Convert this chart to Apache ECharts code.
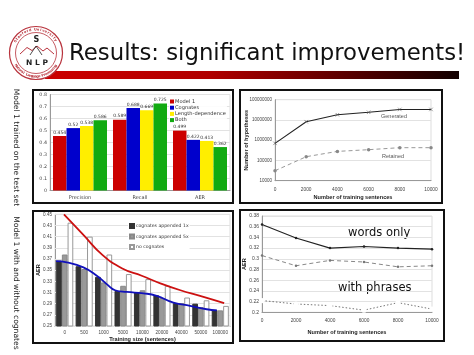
<!DOCTYPE html>
<html>
<head>
<meta charset="UTF-8">
<title>Results: significant improvements!</title>
<style>
html, body { margin: 0; padding: 0; background: #fff; }
#main { width: 474px; height: 355px; }
</style>
</head>
<body>
<div id="main"></div>
<script src="https://cdn.jsdelivr.net/npm/echarts@6/dist/echarts.min.js"></script>
<script type="text/javascript">
// top left: model 1 on the test set
var metricCats = ['Precision', 'Recall', 'AER'];
var model1Vals = [0.454, 0.589, 0.499];
var cognatesVals = [0.52, 0.688, 0.422];
var lengthVals = [0.538, 0.669, 0.413];
var bothVals = [0.586, 0.725, 0.362];

// top right: hypotheses, log scale
var sentenceCats = ['0', '2000', '4000', '6000', '8000', '10000'];
var generatedVals = [700000, 8200000, 18000000, 24000000, 33000000, 33000000];
var retainedVals = [31000, 153000, 280000, 340000, 427000, 427000];

// bottom left: with and without cognates
var sizeCats = ['0', '500', '1000', '5000', '10000', '20000', '40000', '50000', '100000'];
var cogTicks = [0.25, 0.27, 0.29, 0.31, 0.33, 0.35, 0.37, 0.39, 0.41, 0.43, 0.45];
var append1Vals = [0.367, 0.357, 0.338, 0.313, 0.31, 0.305, 0.291, 0.29, 0.279];
var append5Vals = [0.378, 0.352, 0.328, 0.322, 0.314, 0.3, 0.291, 0.284, 0.278];
var noCogVals = [0.435, 0.41, 0.378, 0.343, 0.334, 0.322, 0.301, 0.296, 0.286];
var redCurve = [[0.46, 0.45], [1.46, 0.413], [2.45, 0.377], [3.46, 0.353], [4.46, 0.34], [5.45, 0.326], [6.45, 0.314], [7.46, 0.304], [8.7, 0.291]];
var blueCurve = [[0.05, 0.366], [0.6, 0.364], [1.46, 0.355], [2.15, 0.34], [2.66, 0.325], [3.09, 0.314], [3.69, 0.311], [4.55, 0.3085], [5.23, 0.304], [6.09, 0.292], [6.95, 0.286], [7.8, 0.28], [8.32, 0.278]];

// bottom right: words only vs phrases
var wordsVals = [0.364, 0.339, 0.32, 0.323, 0.32, 0.318];
var phrasesVals = [0.306, 0.287, 0.297, 0.294, 0.285, 0.287];
var lowerVals = [0.222, 0.2155, 0.2125, 0.204, 0.218, 0.206];

var FONT = '"DejaVu Sans"';
var ARIAL = '"Liberation Sans"';
var myChart = echarts.init(document.getElementById('main'), null, { renderer: 'canvas' });

function xAxisBase(idx, cats, font, size, boundary, margin) {
    return {
        type: 'category', gridIndex: idx, data: cats, boundaryGap: boundary,
        axisLine: { lineStyle: { color: '#999', width: 1 } },
        axisTick: { show: false },
        axisLabel: { fontFamily: font, fontSize: size, color: '#444', margin: margin, interval: 0 },
        nameLocation: 'middle', nameMoveOverlap: false,
        nameTextStyle: { fontFamily: ARIAL, fontSize: 5.6, fontWeight: 'bold', color: '#222' }
    };
}
function yAxisBase(idx, font, size) {
    return {
        type: 'value', gridIndex: idx,
        axisLine: { show: true, lineStyle: { color: '#999', width: 1 } },
        axisTick: { show: false },
        axisLabel: { fontFamily: font, fontSize: size, color: '#444', margin: 3 },
        splitLine: { show: true, lineStyle: { color: '#e2e2e2', width: 1 } },
        nameLocation: 'middle', nameMoveOverlap: false,
        nameTextStyle: { fontFamily: ARIAL, fontSize: 5.6, fontWeight: 'bold', color: '#222' }
    };
}
function barSeries(name, vals, color) {
    return {
        name: name, type: 'bar', xAxisIndex: 0, yAxisIndex: 0, data: vals,
        barGap: 0, barCategoryGap: '10%',
        itemStyle: { color: color },
        label: { show: true, position: 'top', distance: 1, fontFamily: FONT, fontSize: 4.5, color: '#333' }
    };
}
function cogBar(name, vals, color, border) {
    return {
        name: name, type: 'bar', xAxisIndex: 2, yAxisIndex: 2, data: vals,
        barGap: 0, barCategoryGap: '12%',
        itemStyle: { color: color, borderColor: border, borderWidth: 1 }
    };
}

// panel frames, logo, title
var gfx = [];
var frames = [[33, 90, 200, 113], [240, 90, 202, 113], [33, 211, 200, 132], [240, 210, 204, 131]];
frames.forEach(function (f) {
    gfx.push({ type: 'rect', z: 100, silent: true, shape: { x: f[0], y: f[1], width: f[2], height: f[3] },
        style: { fill: 'none', stroke: '#111', lineWidth: 2 } });
});
gfx.push({ type: 'rect', shape: { x: 45, y: 71, width: 414, height: 8 },
    style: { fill: new echarts.graphic.LinearGradient(0, 0, 1, 0, [
        { offset: 0, color: '#cc0000' }, { offset: 0.4, color: '#b00000' }, { offset: 1, color: '#120000' }]) } });
gfx.push({ type: 'circle', shape: { cx: 36, cy: 53, r: 26.5 }, style: { fill: '#fff', stroke: '#b8323c', lineWidth: 1.2 } });
gfx.push({ type: 'circle', shape: { cx: 36, cy: 53, r: 20.5 }, style: { fill: '#fff', stroke: '#b8323c', lineWidth: 0.8 } });
gfx.push({ type: 'polyline', shape: { points: [[20, 54], [27, 47.5], [32, 50.5], [37, 46], [43, 51], [47, 48], [54, 54]] },
    style: { fill: 'none', stroke: '#b8323c', lineWidth: 1 } });
gfx.push({ type: 'polyline', shape: { points: [[30, 55], [36, 46], [42, 55]] },
    style: { fill: 'none', stroke: '#222', lineWidth: 0.8 } });
gfx.push({ type: 'text', x: 36.5, y: 40, style: { text: 'S', font: 'bold 8px ' + FONT, fill: '#222', align: 'center', verticalAlign: 'middle' } });
gfx.push({ type: 'text', x: 37, y: 63, style: { text: 'N L P', font: 'bold 7.5px ' + FONT, fill: '#222', align: 'center', verticalAlign: 'middle' } });

function ringText(str, startDeg, stepDeg, r, flip) {
    for (var i = 0; i < str.length; i++) {
        var a = (startDeg + stepDeg * i) * Math.PI / 180;
        gfx.push({ type: 'text', x: 36 + r * Math.cos(a), y: 53 - r * Math.sin(a),
            rotation: flip ? a + Math.PI / 2 : a - Math.PI / 2,
            style: { text: str.charAt(i), font: 'bold 3.5px ' + FONT, fill: '#b8323c', align: 'center', verticalAlign: 'middle' } });
    }
}
ringText('Stanford University', 150, -6.5, 23.5, false);
ringText('Natural Language Processing', 212, 4.4, 23.5, true);

gfx.push({ type: 'text', x: 69, y: 54, style: { text: 'Results: significant improvements!', font: '22.8px ' + FONT, fill: '#111', align: 'left', verticalAlign: 'middle' } });
gfx.push({ type: 'text', x: 15.5, y: 147.5, rotation: -Math.PI / 2, style: { text: 'Model 1 trained on the test set', font: '7.6px ' + FONT, fill: '#222', align: 'center', verticalAlign: 'middle' } });
gfx.push({ type: 'text', x: 16, y: 283, rotation: -Math.PI / 2, style: { text: 'Model 1 with and without cognates', font: '7.6px ' + FONT, fill: '#222', align: 'center', verticalAlign: 'middle' } });
gfx.push({ type: 'text', x: 381, y: 116, style: { text: 'Generated', font: '5.5px ' + ARIAL, fill: '#555', verticalAlign: 'middle' } });
gfx.push({ type: 'text', x: 382, y: 156, style: { text: 'Retained', font: '5.5px ' + ARIAL, fill: '#555', verticalAlign: 'middle' } });
gfx.push({ type: 'text', x: 348, y: 233, style: { text: 'words only', font: '11.5px ' + FONT, fill: '#111', verticalAlign: 'middle' } });
gfx.push({ type: 'text', x: 338, y: 288, style: { text: 'with phrases', font: '11.5px ' + FONT, fill: '#111', verticalAlign: 'middle' } });

var gridBorder = { show: true, borderColor: '#ddd', borderWidth: 1 };
var option = {
    animation: false,
    backgroundColor: '#fff',
    graphic: { elements: gfx },
    grid: [
        Object.assign({ left: 50, top: 94.5, width: 180, height: 96 }, gridBorder),
        Object.assign({ left: 275, top: 99.7, width: 156, height: 81 }, gridBorder),
        Object.assign({ left: 55, top: 214.3, width: 175, height: 111.7 }, gridBorder),
        Object.assign({ left: 262, top: 216, width: 170, height: 96.3 }, gridBorder)
    ],
    legend: [
        {
            data: ['Model 1', 'Cognates', 'Length-dependence', 'Both'], orient: 'vertical',
            left: 169, top: 98, icon: 'rect', itemWidth: 4, itemHeight: 4, itemGap: 1.2, padding: 1,
            backgroundColor: 'rgba(255,255,255,0.9)',
            textStyle: { fontFamily: FONT, fontSize: 5.1, color: '#333', padding: [0, 0, 0, -4] }
        },
        {
            data: ['cognates appended 1x', 'cognates appended 5x', 'no cognates'], orient: 'vertical',
            left: 128, top: 222, icon: 'rect', itemWidth: 4, itemHeight: 4, itemGap: 4.5, padding: 1,
            backgroundColor: '#fff',
            textStyle: { fontFamily: FONT, fontSize: 4.6, color: '#333', padding: [0, 0, 0, -3] }
        }
    ],
    xAxis: [
        xAxisBase(0, metricCats, FONT, 5, true, 5),
        Object.assign(xAxisBase(1, sentenceCats, ARIAL, 4.8, false, 6), { name: 'Number of training sentences', nameGap: 14 }),
        Object.assign(xAxisBase(2, sizeCats, ARIAL, 4.6, true, 4), { name: 'Training size (sentences)', nameGap: 10.5 }),
        { type: 'value', gridIndex: 2, min: 0, max: 9, show: false },
        Object.assign(xAxisBase(3, sentenceCats, ARIAL, 4.8, false, 6), { name: 'Number of training sentences', nameGap: 17.5 })
    ],
    yAxis: [
        Object.assign(yAxisBase(0, FONT, 4.8), { min: 0, max: 0.8, interval: 0.1 }),
        Object.assign(yAxisBase(1, ARIAL, 4.5), {
            type: 'log', logBase: 10, min: 10000, max: 100000000, name: 'Number of hypotheses', nameGap: 26,
            axisLabel: { fontFamily: ARIAL, fontSize: 4.5, color: '#444', margin: 3, formatter: function (v) { return String(v); } }
        }),
        Object.assign(yAxisBase(2, ARIAL, 4.6), {
            min: 0.25, max: 0.45, name: 'AER', nameGap: 14,
            splitLine: { show: false },
            axisLabel: { fontFamily: ARIAL, fontSize: 4.6, color: '#444', margin: 3, customValues: cogTicks, formatter: function (v) { return v.toFixed(2); } }
        }),
        Object.assign(yAxisBase(3, ARIAL, 5), { min: 0.2, max: 0.38, interval: 0.02, name: 'AER', nameGap: 15 })
    ],
    series: [
        barSeries('Model 1', model1Vals, '#cc0000'),
        barSeries('Cognates', cognatesVals, '#0000cc'),
        barSeries('Length-dependence', lengthVals, '#ffee00'),
        barSeries('Both', bothVals, '#11aa11'),
        {
            name: 'Generated', type: 'line', xAxisIndex: 1, yAxisIndex: 1, data: generatedVals,
            symbol: 'path://M0,0L10,10M10,0L0,10', symbolSize: 3.5,
            lineStyle: { color: '#222', width: 1.1 }, itemStyle: { color: '#555', borderColor: '#555', borderWidth: 0.6 }
        },
        {
            name: 'Retained', type: 'line', xAxisIndex: 1, yAxisIndex: 1, data: retainedVals,
            symbol: 'circle', symbolSize: 3.5,
            lineStyle: { color: '#999', width: 1, type: [4, 3] }, itemStyle: { color: '#888' }
        },
        cogBar('cognates appended 1x', append1Vals, '#333', '#333'),
        cogBar('cognates appended 5x', append5Vals, '#999', '#888'),
        Object.assign(cogBar('no cognates', noCogVals, '#fff', '#999'), {
            // faint gridlines, the odd tick values do not line up with interval
            markLine: {
                silent: true, z: 1, symbol: 'none', label: { show: false },
                lineStyle: { color: '#e2e2e2', width: 1, type: 'solid' },
                data: cogTicks.map(function (v) { return { yAxis: v }; })
            }
        }),
        {
            type: 'line', xAxisIndex: 3, yAxisIndex: 2, data: redCurve, smooth: true, symbol: 'none', z: 5,
            lineStyle: { color: '#cc1111', width: 1.8 }
        },
        {
            type: 'line', xAxisIndex: 3, yAxisIndex: 2, data: blueCurve, smooth: true, symbol: 'none', z: 5,
            lineStyle: { color: '#1111bb', width: 1.8 }
        },
        {
            type: 'line', xAxisIndex: 4, yAxisIndex: 3, data: wordsVals, symbol: 'circle', symbolSize: 2.5,
            lineStyle: { color: '#222', width: 1.1 }, itemStyle: { color: '#222' }
        },
        {
            type: 'line', xAxisIndex: 4, yAxisIndex: 3, data: phrasesVals, symbol: 'circle', symbolSize: 2.5,
            lineStyle: { color: '#888', width: 1, type: [4, 3] }, itemStyle: { color: '#777' }
        },
        {
            type: 'line', xAxisIndex: 4, yAxisIndex: 3, data: lowerVals, symbol: 'emptyCircle', symbolSize: 3.2,
            lineStyle: { color: '#666', width: 0.9, type: [1.5, 2] }, itemStyle: { color: '#fff', borderColor: '#777', borderWidth: 0.7 }
        }
    ]
};
myChart.setOption(option);
</script>
</body>
</html>
